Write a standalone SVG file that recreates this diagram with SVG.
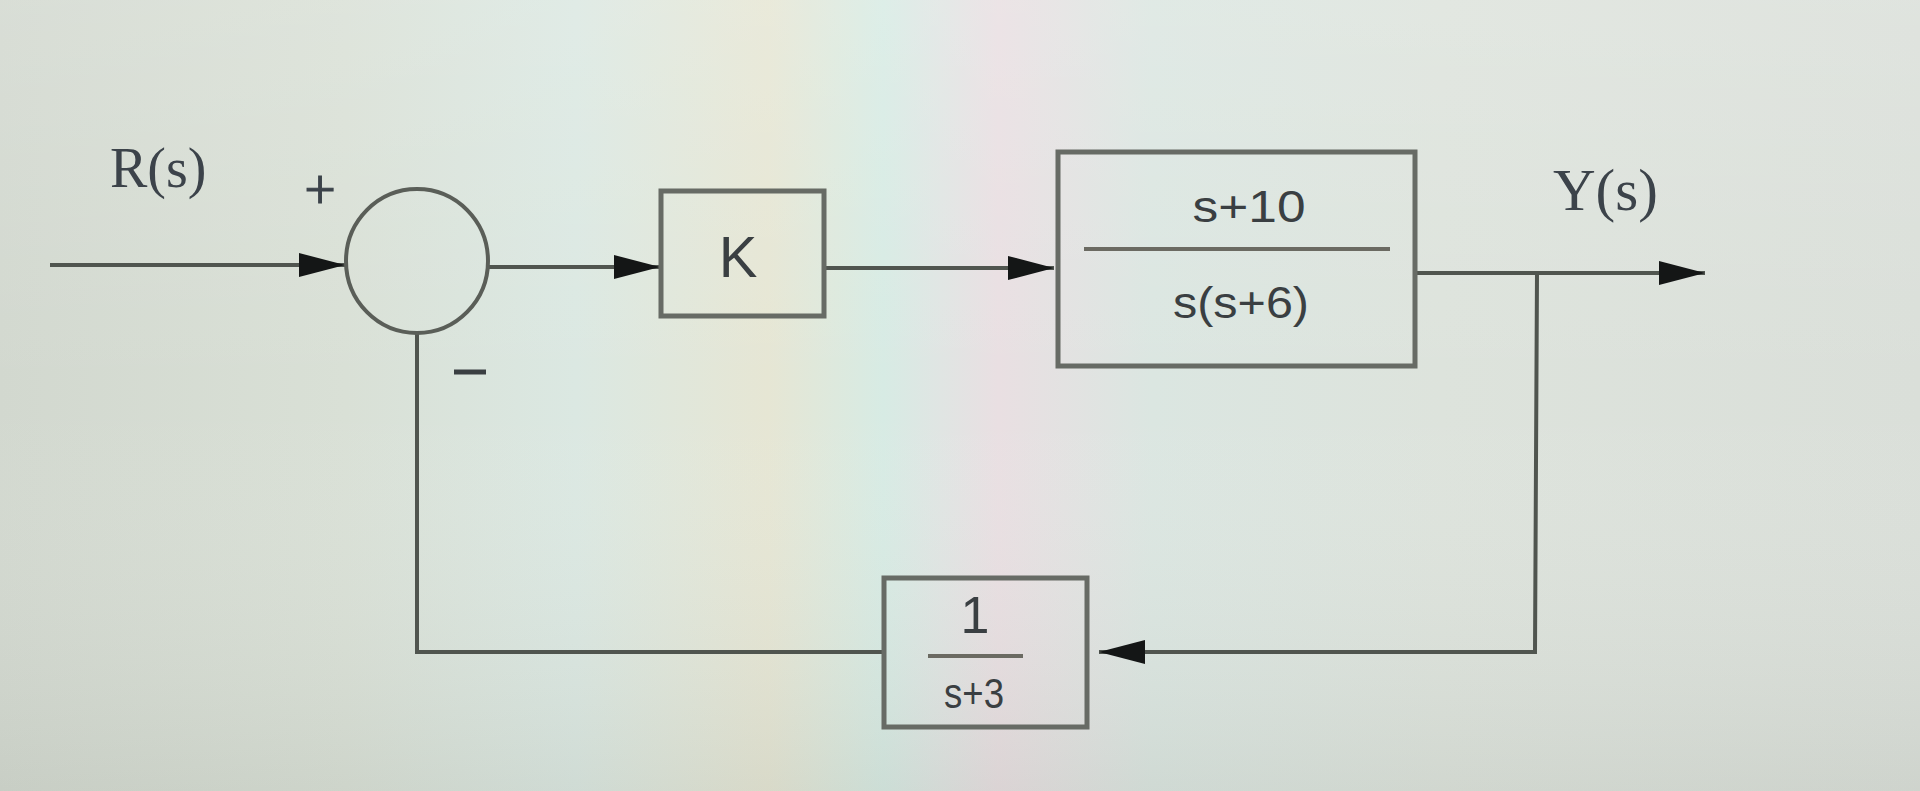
<svg xmlns="http://www.w3.org/2000/svg" width="1920" height="791" viewBox="0 0 1920 791">
  <defs>
    <linearGradient id="bg" x1="0" y1="0" x2="1" y2="0">
      <stop offset="0" stop-color="#d2d8cf"/>
      <stop offset="0.18" stop-color="#d9e0d6"/>
      <stop offset="0.3" stop-color="#dbe8e2"/>
      <stop offset="0.4" stop-color="#e6e6d4"/>
      <stop offset="0.46" stop-color="#d7ebe4"/>
      <stop offset="0.52" stop-color="#e9dfe2"/>
      <stop offset="0.6" stop-color="#dbe6e1"/>
      <stop offset="0.75" stop-color="#dde3dc"/>
      <stop offset="1" stop-color="#dadfd9"/>
    </linearGradient>
    <linearGradient id="shade" x1="0" y1="0" x2="0" y2="1">
      <stop offset="0" stop-color="#ffffff" stop-opacity="0.15"/>
      <stop offset="0.5" stop-color="#ffffff" stop-opacity="0"/>
      <stop offset="1" stop-color="#9aa096" stop-opacity="0.18"/>
    </linearGradient>
    <marker id="arr" viewBox="0 0 46 24" refX="46" refY="12" markerWidth="46" markerHeight="24" markerUnits="userSpaceOnUse" orient="auto">
      <path d="M0,0 L46,12 L0,24 Z" fill="#141616"/>
    </marker>
    <style>
      .wire { fill: none; stroke: #50554f; stroke-width: 4; }
      .box { fill: none; stroke: #676b65; stroke-width: 5; }
      .frac { stroke: #6b6a62; stroke-width: 4; }
      .serif { font-family: "Liberation Serif", "Times New Roman", serif; fill: #3c434a; }
      .sans { font-family: "Liberation Sans", Arial, sans-serif; fill: #3a3f42; }
    </style>
  </defs>
  <rect x="0" y="0" width="1920" height="791" fill="url(#bg)"/>
  <rect x="0" y="0" width="1920" height="791" fill="url(#shade)"/>

  <g id="connectors">
    <path class="wire" d="M50,265 L345,265" marker-end="url(#arr)"/>
    <path class="wire" d="M489,267 L660,267" marker-end="url(#arr)"/>
    <path class="wire" d="M825,268 L1054,268" marker-end="url(#arr)"/>
    <path class="wire" d="M1416,273 L1705,273" marker-end="url(#arr)"/>
    <path class="wire" d="M1537,273 L1535,652 L1099,652" marker-end="url(#arr)"/>
    <path class="wire" d="M884,652 L417,652 L417,333"/>
  </g>

  <g id="labels">
    <text class="serif" x="110" y="187" font-size="56">R(s)</text>
    <text class="serif" x="1553" y="210" font-size="59">Y(s)</text>
    <text class="serif" x="320" y="209" font-size="56" text-anchor="middle" stroke="#3c434a" stroke-width="1">+</text>
    <line x1="454" y1="372" x2="486" y2="372" stroke="#3a3f42" stroke-width="5"/>
  </g>

  <g id="sum">
    <ellipse cx="417" cy="261" rx="71" ry="72" fill="none" stroke="#5a5e58" stroke-width="4"/>
  </g>

  <g id="gainK">
    <rect class="box" x="661" y="191" width="163" height="125"/>
    <text class="sans" x="738" y="277" font-size="58" text-anchor="middle">K</text>
  </g>

  <g id="plantG">
    <rect class="box" x="1058" y="152" width="357" height="214"/>
    <text class="sans" x="1249" y="222" font-size="44" text-anchor="middle" textLength="113" lengthAdjust="spacingAndGlyphs">s+10</text>
    <line class="frac" x1="1084" y1="249" x2="1390" y2="249"/>
    <text class="sans" x="1241" y="318" font-size="45" text-anchor="middle" textLength="136" lengthAdjust="spacingAndGlyphs">s(s+6)</text>
  </g>

  <g id="feedbackH">
    <rect class="box" x="884" y="578" width="203" height="149"/>
    <text class="sans" x="975" y="633" font-size="52" text-anchor="middle">1</text>
    <line class="frac" x1="928" y1="656" x2="1023" y2="656"/>
    <text class="sans" x="974" y="708" font-size="43" text-anchor="middle" textLength="60" lengthAdjust="spacingAndGlyphs">s+3</text>
  </g>
</svg>
